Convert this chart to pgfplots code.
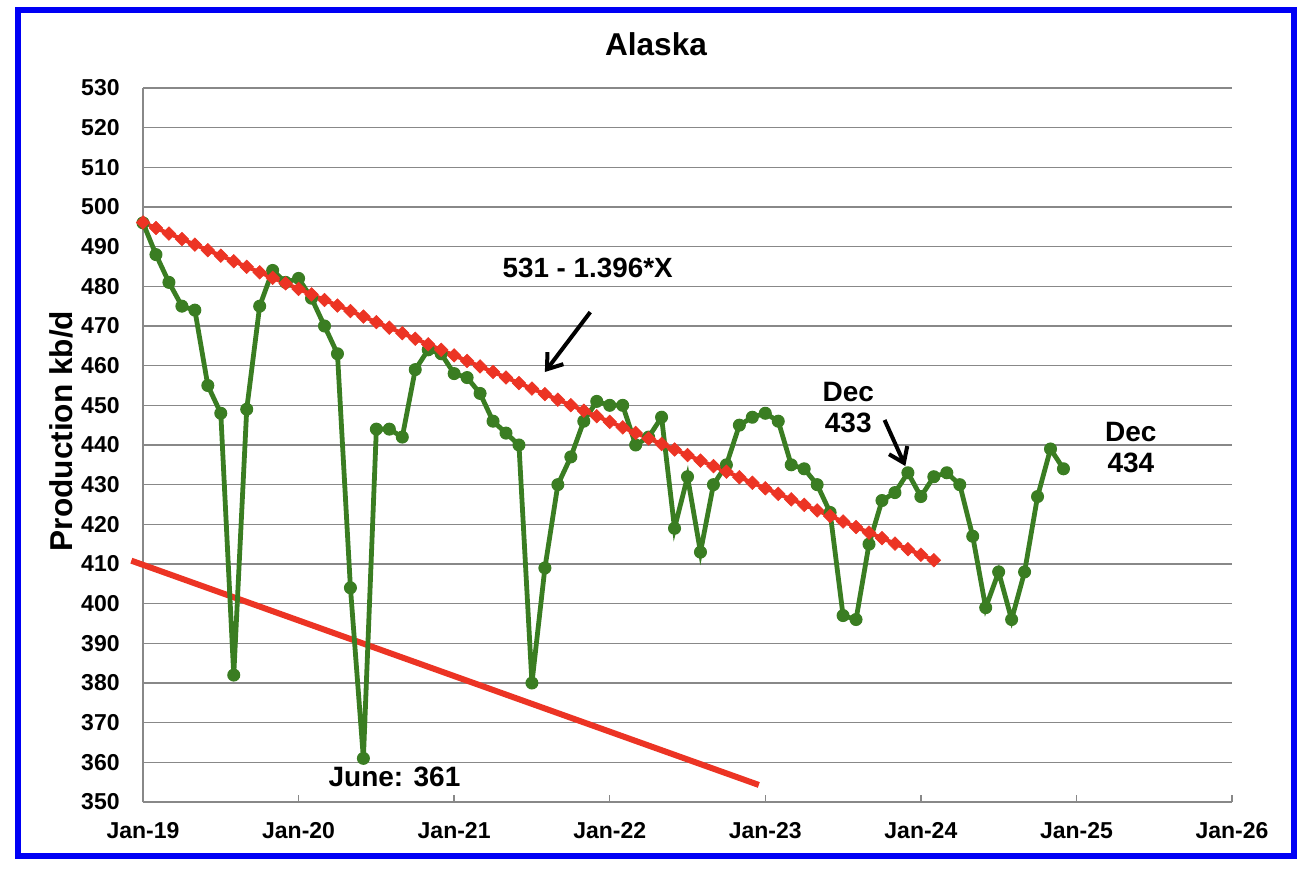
\documentclass[border=0pt]{standalone}
\usepackage{fontspec}
\setmainfont{Liberation Sans}
\usepackage{pgfplots}
\usepackage{pgfplotstable}
\pgfplotsset{compat=1.18}
\usetikzlibrary{arrows.meta}
\definecolor{grn}{RGB}{58,125,34}
\definecolor{rd}{RGB}{236,52,36}
\definecolor{gridgray}{RGB}{136,136,136}
\definecolor{frameblue}{RGB}{0,0,245}

\pgfplotstableread{
m v
0 496
1 488
2 481
3 475
4 474
5 455
6 448
7 382
8 449
9 475
10 484
11 481
12 482
13 477
14 470
15 463
16 404
17 361
18 444
19 444
20 442
21 459
22 464
23 463
24 458
25 457
26 453
27 446
28 443
29 440
30 380
31 409
32 430
33 437
34 446
35 451
36 450
37 450
38 440
39 442
40 447
41 419
42 432
43 413
44 430
45 435
46 445
47 447
48 448
49 446
50 435
51 434
52 430
53 423
54 397
55 396
56 415
57 426
58 428
59 433
60 427
61 432
62 433
63 430
64 417
65 399
66 408
67 396
68 408
69 427
70 439
71 434
}\prod

\pgfplotstableread{
m v
0 496.100
1 494.704
2 493.308
3 491.912
4 490.516
5 489.120
6 487.724
7 486.328
8 484.932
9 483.536
10 482.140
11 480.744
12 479.348
13 477.952
14 476.556
15 475.160
16 473.764
17 472.368
18 470.972
19 469.576
20 468.180
21 466.784
22 465.388
23 463.992
24 462.596
25 461.200
26 459.804
27 458.408
28 457.012
29 455.616
30 454.220
31 452.824
32 451.428
33 450.032
34 448.636
35 447.240
36 445.844
37 444.448
38 443.052
39 441.656
40 440.260
41 438.864
42 437.468
43 436.072
44 434.676
45 433.280
46 431.884
47 430.488
48 429.092
49 427.696
50 426.300
51 424.904
52 423.508
53 422.112
54 420.716
55 419.320
56 417.924
57 416.528
58 415.132
59 413.736
60 412.340
61 410.944
}\trend

\begin{document}
\begin{tikzpicture}[x=1pt,y=1pt]
\path[use as bounding box] (0,0) rectangle (655,436);
\draw[frameblue, line width=3pt] (9,8) rectangle (647,431);
\begin{axis}[
  at={(71.5pt,35pt)}, anchor=south west,
  scale only axis, width=544.5pt, height=357pt,
  xmin=0, xmax=84, ymin=350, ymax=530,
  clip=false,
  axis x line*=bottom, axis y line*=left,
  axis line style={gridgray, line width=0.75pt},
  xtick={0,12,24,36,48,60,72,84},
  xticklabels={Jan-19,Jan-20,Jan-21,Jan-22,Jan-23,Jan-24,Jan-25,Jan-26},
  ytick={350,360,...,530},
  ymajorgrids,
  grid style={gridgray, line width=0.75pt},
  tick align=inside,
  major tick length=3.5pt,
  xtick style={gridgray, line width=0.75pt},
  ytick style={draw=none},
  /pgf/number format/assume math mode=true,
  /pgf/number format/1000 sep={},
  tick label style={font=\fontsize{11.5}{13}\selectfont\bfseries},
  xticklabel style={anchor=base, yshift=-18pt},
  yticklabel style={anchor=east, inner sep=0pt, xshift=-11.5pt},
]
\addplot[rd, line width=3pt] coordinates {(-0.9,410.84) (47.5,354.3)};
\addplot[grn, line width=2.4pt, mark=*, mark size=3pt, mark options={solid, fill=grn, draw=grn, line width=0.5pt}] table[x=m, y=v] {\prod};
\addplot[rd, line width=2pt, mark=square*, mark size=2.4pt, mark options={solid, rotate=45, fill=rd, draw=rd, line width=0.3pt}] table[x=m, y=v] {\trend};

\node[font=\fontsize{13.9}{15.5}\selectfont\bfseries] at (axis cs:34.3,484.6) {531 - 1.396*X};
\draw[line width=2pt, -{Straight Barb[length=7pt, width=10pt, line width=2pt]}] (axis cs:34.5,473.5) -- (axis cs:31.0,458.4);
\node[font=\fontsize{14}{15.5}\selectfont\bfseries, align=center] at (axis cs:54.4,449.5) {Dec\\433};
\draw[line width=2pt, -{Straight Barb[length=7pt, width=10pt, line width=2pt]}] (axis cs:57.2,446.3) -- (axis cs:58.8,434.7);
\node[font=\fontsize{14}{15.5}\selectfont\bfseries, align=center] at (axis cs:76.2,439.4) {Dec\\434};
\node[font=\fontsize{14}{15.5}\selectfont\bfseries] at (axis cs:19.4,356.3) {June: 361};
\end{axis}
\node[font=\fontsize{15.8}{18}\selectfont\bfseries] at (328,414) {Alaska};
\node[font=\fontsize{15.8}{18}\selectfont\bfseries, rotate=90] at (30.5,220.5) {Production kb/d};
\end{tikzpicture}
\end{document}
